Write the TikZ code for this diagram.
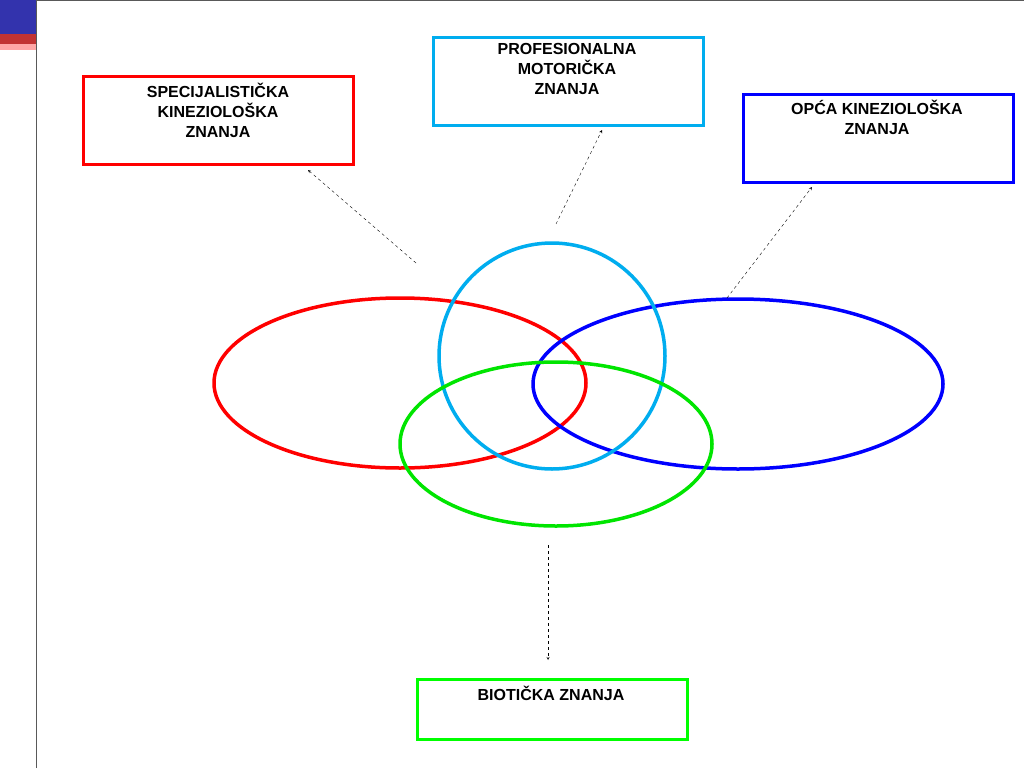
\documentclass[tikz,border=0pt]{standalone}
\usepackage{fontspec}
\setmainfont{Liberation Sans}
\begin{document}
\begin{tikzpicture}[x=1pt,y=-1pt,
  box/.style={draw,line width=3pt,minimum width=270,minimum height=88,anchor=north west,inner sep=0},
  lbl/.style={align=center,font=\bfseries\fontsize{16}{20}\selectfont,anchor=north},
  ring/.style={line width=3.5pt},
  arr/.style={dashed,->,>=stealth,thin}]
\useasboundingbox (0,0) rectangle (1024,768);
\fill[white] (0,0) rectangle (1024,768);
\fill[blue!60!black!80] (0,0) rectangle (36,34);
\fill[red!70!black!80] (0,34) rectangle (36,44);
\fill[red!35] (0,44) rectangle (36,50);
\draw[gray!70!black,thin] (36,768) -- (36,0.5) -- (1024,0.5);
\draw[ring,red] (400,383) ellipse [x radius=186,y radius=85];
\draw[ring,blue] (738,384) ellipse [x radius=205,y radius=85];
\draw[ring,cyan] (552,356) circle [radius=113];
\draw[ring,green!90!black] (556,444) ellipse [x radius=156,y radius=82];
\node[box,red] (b1) at (82,75) {};
\node[lbl] at (218,80) {SPECIJALISTIČKA\\KINEZIOLOŠKA\\ZNANJA};
\node[box,cyan] (b2) at (432,36) {};
\node[lbl] at (567,40) {PROFESIONALNA\\MOTORIČKA\\ZNANJA};
\node[box,blue] (b3) at (742,93) {};
\node[lbl] at (877,97) {OPĆA KINEZIOLOŠKA\\ZNANJA};
\node[box,green,minimum height=60] (b4) at (416,678) {};
\node[lbl] at (551,683) {BIOTIČKA ZNANJA};
\coordinate (s1) at (416,263); \coordinate (e1) at (308,170);
\coordinate (s2) at (556,224); \coordinate (e2) at (602,130);
\coordinate (s3) at (727,298); \coordinate (e3) at (812,187);
\coordinate (s4) at (548,545); \coordinate (e4) at (548,660);
\draw[arr] (s1) -- (e1);
\draw[arr] (s2) -- (e2);
\draw[arr] (s3) -- (e3);
\draw[arr] (s4) -- (e4);
\end{tikzpicture}
\end{document}
